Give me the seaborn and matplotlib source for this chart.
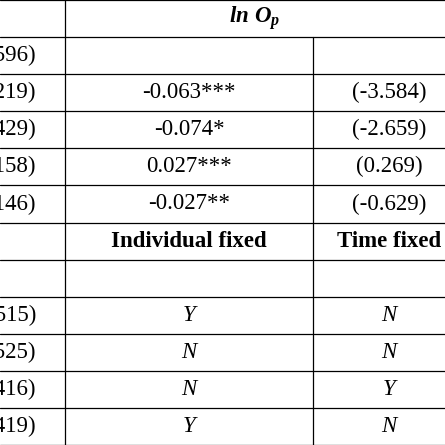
import matplotlib
matplotlib.use("Agg")
import matplotlib.pyplot as plt
import seaborn as sns

sns.set_theme(style="white")
plt.rcParams['font.family'] = ['Liberation Serif', 'DejaVu Serif']
plt.rcParams['mathtext.fontset'] = 'custom'
plt.rcParams['mathtext.it'] = 'Liberation Serif:italic:bold'
plt.rcParams['mathtext.rm'] = 'Liberation Serif:bold'

left_col = ["", "(0.596)", "(0.219)", "(0.429)", "(0.158)", "(0.146)", "", "", "(0.515)", "(0.525)", "(0.416)", "(0.419)"]
col2 = ["", "", "-0.063***", "-0.074*", "0.027***", "-0.027**", "Individual fixed", "", "Y", "N", "N", "Y"]
col3 = ["", "", "(-3.584)", "(-2.659)", "(0.269)", "(-0.629)", "Time fixed", "", "N", "N", "Y", "N"]
header = r"$\mathit{ln\ O_p}$"

fig = plt.figure(figsize=(4.45, 4.45), dpi=100)
ax = fig.add_axes([0, 0, 1, 1])
ax.set_xlim(0, 445); ax.set_ylim(445, 0); ax.axis("off")

row_h = 445 / 12
for i in range(13):
    ax.plot([0, 445], [i * row_h] * 2, color="black", lw=0.9)
ax.plot([65, 65], [0, 445], color="black", lw=0.9)
ax.plot([313, 313], [row_h, 445], color="black", lw=0.9)

fs = 16.5
ax.text(255, row_h / 2, header, ha="center", va="center", fontsize=fs, color="black")
for i in range(12):
    y = (i + 0.5) * row_h
    ax.text(36, y, left_col[i], ha="right", va="center", fontsize=fs, color="black")
    bold = i == 6
    ax.text(189, y, col2[i], ha="center", va="center", fontsize=fs, color="black",
            fontweight="bold" if bold else "normal", style="italic" if col2[i] in ("Y", "N") else "normal")
    ax.text(389, y, col3[i], ha="center", va="center", fontsize=fs, color="black",
            fontweight="bold" if bold else "normal", style="italic" if col3[i] in ("Y", "N") else "normal")

fig.savefig("out.png", dpi=100)
